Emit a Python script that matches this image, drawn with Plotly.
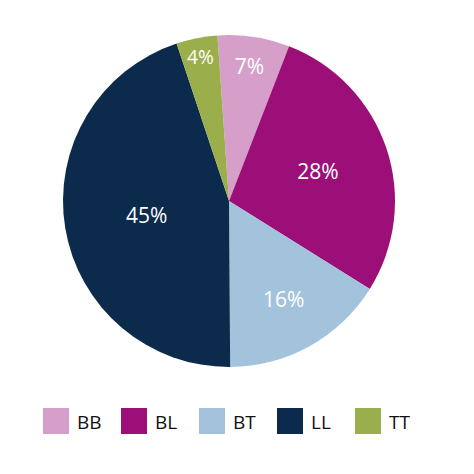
import plotly.graph_objects as go

# ---- data ----
labels = ["BB", "BL", "BT", "LL", "TT"]
shares = [7, 28, 16, 45, 4]
colours = ["#d69fca", "#9c0f78", "#a3c2dc", "#0b2a4c", "#9bae4c"]

W = H = 474
OFF = 8  # page body margin the browser adds round the figure


def px_x(x):
    return (x - OFF) / W


def px_y(y):
    return 1 - (y - OFF) / H


# pie: centre (229, 201), radius 166 in screen pixels
cx, cy, r = 229, 201, 166

fig = go.Figure(
    go.Pie(
        labels=labels,
        values=shares,
        sort=False,
        direction="clockwise",
        rotation=-4,
        marker=dict(colors=colours, line=dict(width=0)),
        texttemplate="%{value}%",
        textposition="inside",
        insidetextorientation="horizontal",
        insidetextfont=dict(color="white", size=21, family="Open Sans"),
        domain=dict(x=[px_x(cx - r), px_x(cx + r)], y=[px_y(cy + r), px_y(cy - r)]),
        hoverinfo="label+percent",
        showlegend=False,
    )
)

# ---- legend row: big squares + labels, like the original ----
shapes, notes = [], []
x0, step, size, ymid = 43, 78, 26, 421
for i, (lab, col) in enumerate(zip(labels, colours)):
    left = x0 + i * step
    shapes.append(dict(
        type="rect", xref="paper", yref="paper",
        x0=px_x(left), x1=px_x(left + size),
        y0=px_y(ymid + size / 2), y1=px_y(ymid - size / 2),
        fillcolor=col, line=dict(width=0),
    ))
    notes.append(dict(
        text=lab, xref="paper", yref="paper",
        x=px_x(left + size + 6), y=px_y(ymid + 1),
        xanchor="left", yanchor="middle", showarrow=False,
        font=dict(size=19, color="#111111", family="Open Sans"),
    ))

fig.update_layout(
    width=W,
    height=H,
    margin=dict(l=0, r=0, t=0, b=0),
    paper_bgcolor="white",
    font=dict(family="Open Sans", color="black"),
    shapes=shapes,
    annotations=notes,
)

fig.write_html("out.html")
